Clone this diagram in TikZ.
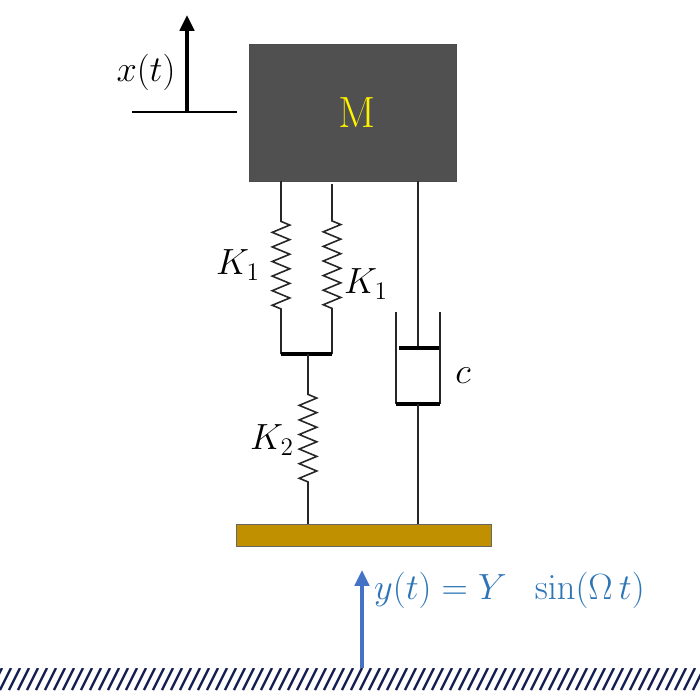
\documentclass[tikz,border=0pt]{standalone}
\usepackage{amsmath}
\usetikzlibrary{arrows.meta,decorations.pathmorphing}
\definecolor{massgray}{RGB}{80,80,80}
\definecolor{plategold}{RGB}{192,144,0}
\definecolor{arrowblue}{RGB}{68,114,196}
\definecolor{textblue}{RGB}{46,117,182}
\definecolor{hatchnavy}{RGB}{20,30,80}
\tikzset{
  spring/.style={decorate,decoration={zigzag,amplitude=5pt,segment length=8.3pt,pre length=23pt,post length=24pt}},
  link/.style={line width=.9pt,black!85},
  bar/.style={line width=1.8pt},
  lbl/.style={font=\huge},
}
\begin{document}
\begin{tikzpicture}[x=0.02cm,y=-0.02cm]
\useasboundingbox (0,0) rectangle (700,700);

% Mass
  \node[draw=black!70,fill=massgray,minimum width=4.14cm,minimum height=2.74cm,inner sep=0] (M) at (352.5,112.5) {};
  \node[text=yellow,font=\Huge] (Mlabel) at (357,113) {M};

% Displacement x(t)
  \coordinate (xbase) at (187,112);
  \coordinate (xtip) at (187,15);
  \coordinate (xl) at (132,112);
  \coordinate (xr) at (237,112);
  \draw[line width=1.6pt] (xl) -- (xr);
  \draw[-{Triangle[length=9pt,width=8pt]},line width=2.4pt] (xbase) -- (xtip);
  \node[lbl] (xlabel) at (146,72) {$x(t)$};

% K1 springs
  \coordinate (s1top) at (281,181);
  \coordinate (s1bot) at (281,354);
  \coordinate (s2top) at (332,184);
  \coordinate (s2bot) at (332,354);
  \draw[link,spring] (s1top) -- (s1bot);
  \draw[link,spring,decoration={pre length=21pt}] (s2top) -- (s2bot);
  \draw[bar] (s1bot) -- (s2bot);
  \node[lbl] (k1a) at (238,265) {$K_1$};
  \node[lbl] (k1b) at (366,284) {$K_1$};

% K2 spring
  \coordinate (s3top) at (308,354);
  \coordinate (s3bot) at (308,524);
  \draw[link,spring,decoration={pre length=23pt,post length=23pt}] (s3top) -- (s3bot);
  \node[lbl] (k2) at (272,440) {$K_2$};

% Damper
  \coordinate (dtop) at (418,181);
  \coordinate (dpist) at (418,348);
  \coordinate (dbot) at (418,404);
  \coordinate (dground) at (418,524);
  \draw[link] (dtop) -- (dpist);
  \draw[bar] (399,348) -- (439,348);
  \draw[link] (396,312) -- (396,404) (440,312) -- (440,404);
  \draw[bar] (396,404) -- (440,404);
  \draw[link] (dbot) -- (dground);
  \node[lbl] (c) at (463,376) {$c$};

% Base plate
  \draw[fill=plategold,draw=black!60] (236,524) rectangle (491,546);

% Ground excitation
  \coordinate (ybase) at (362,668);
  \coordinate (ytip) at (362,570);
  \draw[-{Triangle[length=9pt,width=8pt]},line width=2.4pt,arrowblue] (ybase) -- (ytip);
  \node[lbl,text=textblue,anchor=west] (ylabel) at (368,590) {$y(t) = Y\ \ \sin(\Omega\, t)$};

% Ground hatching
  \begin{scope}
    \clip (0,668) rectangle (700,690);
    \foreach \i in {-2,...,80}
      \draw[hatchnavy,line width=1.3pt] (\i*9,690) -- (\i*9+11,668);
  \end{scope}

\end{tikzpicture}
\end{document}
